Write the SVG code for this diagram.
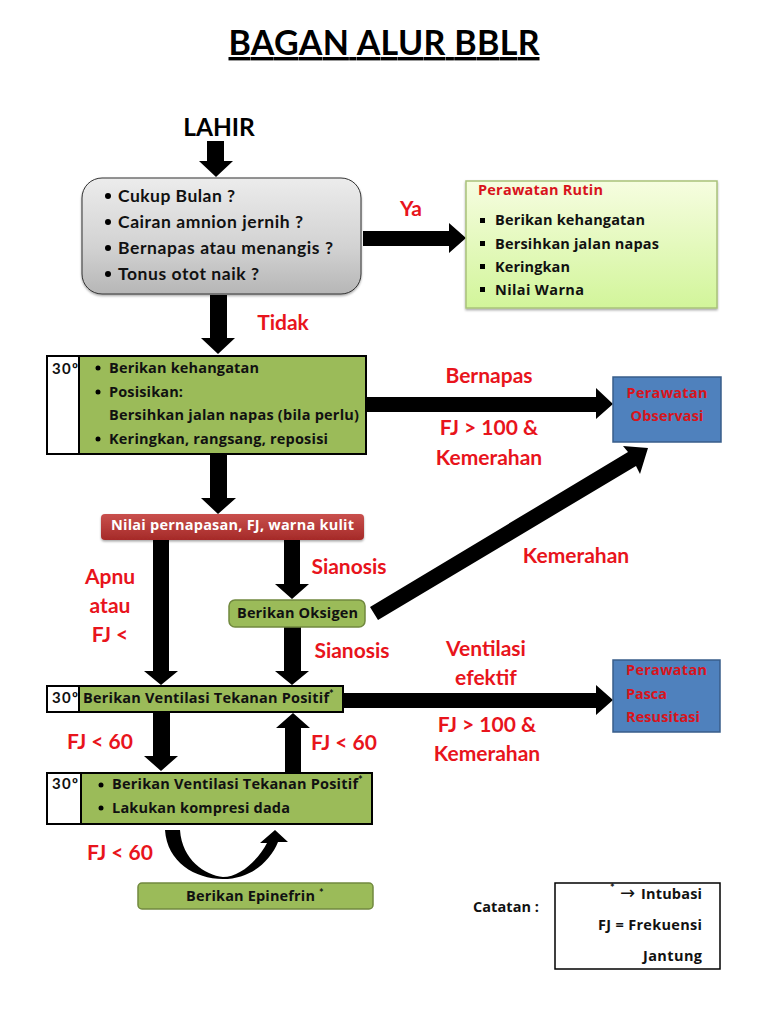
<svg xmlns="http://www.w3.org/2000/svg" width="768" height="1024" viewBox="0 0 768 1024">
<style>
text{font-family:"Lato","Liberation Sans",sans-serif;font-weight:700;fill:#111}
.r{fill:#e8141c}
.big{font-size:21px}
.m{font-size:17.5px}
.s{font-family:"Open Sans","Liberation Sans",sans-serif;font-size:14.5px}
.rb{font-family:"Open Sans","Liberation Sans",sans-serif;fill:#d8141c;font-size:14.5px}
.d{font-size:15px}
.g{fill:#9bbb59;stroke:#000;stroke-width:2}
.w{fill:#fff;stroke:#000;stroke-width:2}
.b{fill:#4f81bd;stroke:#385d8a;stroke-width:1.5}
.mid{text-anchor:middle}
</style>
<defs>
<linearGradient id="gray" x1="0" y1="0" x2="0" y2="1"><stop offset="0" stop-color="#ececec"/><stop offset=".6" stop-color="#d2d2d2"/><stop offset="1" stop-color="#b6b6b6"/></linearGradient>
<linearGradient id="lime" x1="0" y1="0" x2="0" y2="1"><stop offset="0" stop-color="#f6fde0"/><stop offset="1" stop-color="#d2f59a"/></linearGradient>
<linearGradient id="red" x1="0" y1="0" x2="0" y2="1"><stop offset="0" stop-color="#c9504d"/><stop offset="1" stop-color="#a52a28"/></linearGradient>
<filter id="sh" x="-5%" y="-10%" width="110%" height="125%"><feDropShadow dx="0" dy="1.5" stdDeviation="1.2" flood-color="#000" flood-opacity=".35"/></filter>
</defs>
<rect width="768" height="1024" fill="#fff"/>
<g id="title"><text x="384" y="55" class="mid" font-size="34" text-decoration="underline" textLength="311" style="fill:#000">BAGAN ALUR BBLR</text></g>
<g id="lahir"><text x="219" y="136" class="mid" font-size="24.5" style="fill:#000">LAHIR</text></g>

<g id="connectors" fill="#000">
<polygon points="207,141 224,141 224,161 233,161 216,177 199,161 207,161"/>
<polygon points="363,231 449,231 449,223 466,238 449,253 449,246 363,246"/>
<polygon points="210,295 227,295 227,338 235,338 218,354 201,338 210,338"/>
<polygon points="367,397 596,397 596,388 613,404 596,419 596,412 367,412"/>
<polygon points="210,455 227,455 227,498 236,498 218,514 201,498 210,498"/>
<polygon points="153,540 169,540 169,671 178,671 161,685 144,671 153,671"/>
<polygon points="284,540 300,540 300,584 309,584 292,599 275,584 284,584"/>
<polygon points="284,627 301,627 301,671 309,671 292,685 275,671 284,671"/>
<polygon points="370,607 628,452 623,446 648,448 640,474 636,466 378,620"/>
<polygon points="344,693 596,693 596,685 613,700 596,715 596,708 344,708"/>
<polygon points="153,712 170,712 170,756 178,756 161,771 144,756 153,756"/>
<polygon points="285,772 301,772 301,728 310,728 293,713 276,728 285,728"/>
<path d="M165,830 C167,862 195,879 223,879 C 250,879 270,862 278,842 L288,842 L275,830 L260,843 L267,843 C 258,860 240,877 223,877 C 205,875 182,860 180,830 Z"/>
</g>

<g id="node-check">
<rect x="82" y="178" width="279" height="116" rx="20" fill="url(#gray)" stroke="#333" stroke-width="1" filter="url(#sh)"/>
<circle cx="108" cy="196" r="3"/><circle cx="108" cy="222" r="3"/><circle cx="108" cy="248" r="3"/><circle cx="108" cy="274" r="3"/>
<text x="118" y="202" class="m" textLength="117">Cukup Bulan ?</text>
<text x="118" y="228" class="m" textLength="185">Cairan amnion jernih ?</text>
<text x="118" y="254" class="m" textLength="215">Bernapas atau menangis ?</text>
<text x="118" y="280" class="m" textLength="141">Tonus otot naik ?</text>
</g>

<g id="node-rutin">
<rect x="466" y="181" width="251" height="127" fill="url(#lime)" stroke="#a9c27a" stroke-width="1.5" filter="url(#sh)"/>
<text x="478" y="195" class="rb" textLength="125">Perawatan Rutin</text>
<rect x="480" y="218" width="5" height="5" fill="#000"/><rect x="480" y="241" width="5" height="5" fill="#000"/><rect x="480" y="264" width="5" height="5" fill="#000"/><rect x="480" y="287" width="5" height="5" fill="#000"/>
<text x="495" y="225" class="s" textLength="150">Berikan kehangatan</text>
<text x="495" y="249" class="s" textLength="164">Bersihkan jalan napas</text>
<text x="495" y="272" class="s" textLength="75">Keringkan</text>
<text x="495" y="295" class="s" textLength="89">Nilai Warna</text>
</g>

<g id="node-langkah1">
<rect x="47" y="356" width="32" height="98" class="w"/>
<rect x="79" y="356" width="287" height="98" class="g"/>
<text x="52" y="374" class="d" textLength="26">30º</text>
<circle cx="98" cy="368" r="2.5"/><circle cx="98" cy="392" r="2.5"/><circle cx="98" cy="439" r="2.5"/>
<text x="109" y="373" class="s" textLength="150">Berikan kehangatan</text>
<text x="109" y="397" class="s" textLength="74">Posisikan:</text>
<text x="109" y="420" class="s" textLength="250">Bersihkan jalan napas (bila perlu)</text>
<text x="109" y="444" class="s" textLength="219">Keringkan, rangsang, reposisi</text>
</g>

<g id="node-nilai">
<rect x="101" y="514" width="263" height="26" rx="4" fill="url(#red)" filter="url(#sh)"/>
<text x="111" y="530" class="s" textLength="243" style="fill:#fff">Nilai pernapasan, FJ, warna kulit</text>
</g>

<g id="node-oksigen">
<rect x="229" y="600" width="136" height="27" rx="6" fill="#9bbb59" stroke="#71893f" stroke-width="1.5"/>
<text x="237" y="618" class="s" textLength="121">Berikan Oksigen</text>
</g>

<g id="node-vtp1">
<rect x="47" y="686" width="32" height="26" class="w"/>
<rect x="79" y="686" width="264" height="26" class="g"/>
<text x="52" y="703" class="d" textLength="26">30º</text>
<text x="83" y="703" class="s" textLength="246">Berikan Ventilasi Tekanan Positif</text>
<text x="329" y="698" font-size="11">*</text>
</g>

<g id="node-vtp2">
<rect x="47" y="773" width="34" height="51" class="w"/>
<rect x="81" y="773" width="291" height="51" class="g"/>
<text x="52" y="789" class="d" textLength="26">30º</text>
<circle cx="101" cy="785" r="2.5"/><circle cx="101" cy="808" r="2.5"/>
<text x="112" y="789" class="s" textLength="246">Berikan Ventilasi Tekanan Positif</text>
<text x="358" y="784" font-size="11">*</text>
<text x="112" y="813" class="s" textLength="178">Lakukan kompresi dada</text>
</g>

<g id="node-epinefrin">
<rect x="138" y="883" width="235" height="26" rx="4" fill="#9bbb59" stroke="#71893f" stroke-width="1.5"/>
<text x="186" y="901" class="s" textLength="129">Berikan Epinefrin</text>
<text x="319" y="897" font-size="11">*</text>
</g>

<g id="node-observasi">
<rect x="613" y="377" width="108" height="65" class="b"/>
<text x="667" y="398" class="rb mid" textLength="81">Perawatan</text>
<text x="667" y="421" class="rb mid" textLength="73">Observasi</text>
</g>

<g id="node-pasca">
<rect x="613" y="660" width="107" height="72" class="b"/>
<text x="626" y="675" class="rb" textLength="81">Perawatan</text>
<text x="626" y="699" class="rb" textLength="41">Pasca</text>
<text x="626" y="722" class="rb" textLength="74">Resusitasi</text>
</g>

<g id="labels">
<text x="411" y="216" class="r big mid">Ya</text>
<text x="283" y="330" class="r big mid">Tidak</text>
<text x="489" y="383" class="r big mid">Bernapas</text>
<text x="489" y="435" class="r big mid">FJ &gt; 100 &amp;</text>
<text x="489" y="465" class="r big mid">Kemerahan</text>
<text x="576" y="563" class="r big mid">Kemerahan</text>
<text x="110" y="584" class="r big mid">Apnu</text>
<text x="110" y="613" class="r big mid">atau</text>
<text x="110" y="642" class="r big mid">FJ &lt;</text>
<text x="349" y="574" class="r big mid">Sianosis</text>
<text x="352" y="658" class="r big mid">Sianosis</text>
<text x="486" y="656" class="r big mid">Ventilasi</text>
<text x="486" y="685" class="r big mid">efektif</text>
<text x="487" y="732" class="r big mid">FJ &gt; 100 &amp;</text>
<text x="487" y="761" class="r big mid">Kemerahan</text>
<text x="100" y="749" class="r big mid">FJ &lt; 60</text>
<text x="344" y="750" class="r big mid">FJ &lt; 60</text>
<text x="120" y="860" class="r big mid">FJ &lt; 60</text>
</g>

<g id="notes">
<text x="473" y="912" class="s" textLength="66">Catatan :</text>
<rect x="555" y="883" width="165" height="86" fill="#fff" stroke="#000" stroke-width="1.5"/>
<text x="610" y="892" font-size="11">*</text>
<text x="620" y="899" font-size="18" style="font-family:'DejaVu Sans',sans-serif;font-weight:400">→</text>
<text x="641" y="899" class="s" textLength="61">Intubasi</text>
<text x="598" y="930" class="s" textLength="104">FJ = Frekuensi</text>
<text x="643" y="961" class="s" textLength="59">Jantung</text>
</g>
</svg>
